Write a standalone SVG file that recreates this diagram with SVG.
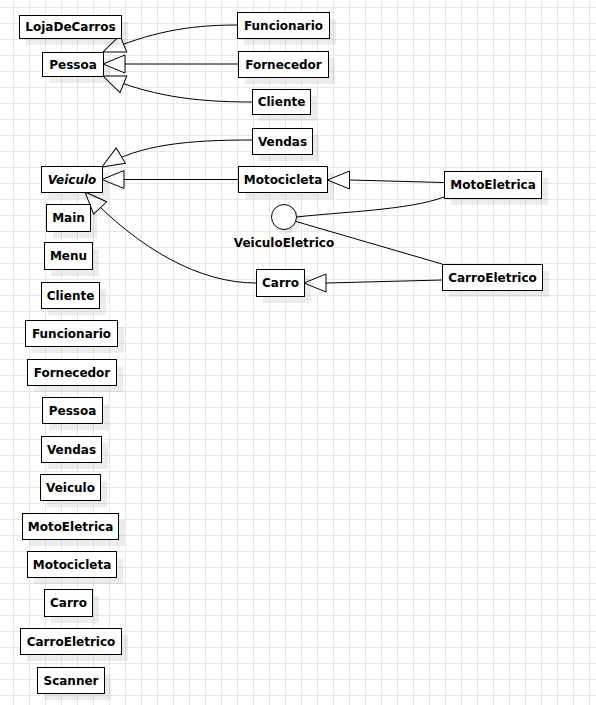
<svg xmlns="http://www.w3.org/2000/svg" width="596" height="705" viewBox="0 0 596 705">
<style>
.box{fill:#fff;stroke:#000;stroke-width:1}
.sh{fill:#000;opacity:0.07}
.t{font-family:"DejaVu Sans","Liberation Sans",sans-serif;font-size:12px;font-weight:bold;text-anchor:middle;fill:#000}
.it{font-style:italic}
.e{fill:none;stroke:#000;stroke-width:1}
.g{marker-end:url(#tri)}
</style>
<defs>
<pattern id="grid" patternUnits="userSpaceOnUse" x="13" y="7" width="16" height="16">
<path d="M0.5,0 V16 M0,0.5 H16" stroke="#e8e8e8" stroke-width="1" fill="none"/>
</pattern>
<marker id="tri" markerUnits="userSpaceOnUse" viewBox="-1 -1 25 20" refX="22" refY="9" markerWidth="25" markerHeight="20" orient="auto">
<path d="M0,0 L22,9 L0,18 Z" fill="#fff" stroke="#000" stroke-width="1"/>
</marker>
</defs>
<rect width="596" height="705" fill="#fff"/>
<rect width="596" height="705" fill="url(#grid)"/>

<g id="connectors">
<path class="e g" d="M237,25 C185,25 150,33 103,52"/>
<path class="e g" d="M238,64 L103,64"/>
<path class="e g" d="M252,102 C190,102 150,95 103,76"/>
<path class="e g" d="M252,140 C190,140 140,144 102,167"/>
<path class="e g" d="M238,179.5 L102,179.5"/>
<path class="e g" d="M256,283 C200,283 140,250 85,192"/>
<path class="e g" d="M444,182.5 L350,180 L327.5,180"/>
<path class="e g" d="M442,280 L327,283 L304,283"/>
<path class="e" d="M444,197 C410,210 340,212 296.5,217"/>
<path class="e" d="M296,221.5 L442,264"/>
</g>

<g id="n-lojadecarros"><rect class="sh" x="26" y="22" width="102" height="23"/><rect class="box" x="19.5" y="15.5" width="102" height="23"/><text class="t" x="70.5" y="31.4">LojaDeCarros</text></g>
<g id="n-pessoa"><rect class="sh" x="49" y="59" width="61" height="24"/><rect class="box" x="42.5" y="52.5" width="61" height="24"/><text class="t" x="73" y="68.9">Pessoa</text></g>
<g id="n-funcionario"><rect class="sh" x="244" y="19" width="92" height="26"/><rect class="box" x="237.5" y="12.5" width="92" height="26"/><text class="t" x="283.5" y="29.9">Funcionario</text></g>
<g id="n-fornecedor"><rect class="sh" x="245" y="58" width="90" height="26"/><rect class="box" x="238.5" y="51.5" width="90" height="26"/><text class="t" x="283.5" y="68.9">Fornecedor</text></g>
<g id="n-cliente"><rect class="sh" x="259" y="96" width="58" height="25"/><rect class="box" x="252.5" y="89.5" width="58" height="25"/><text class="t" x="281.5" y="106.4">Cliente</text></g>
<g id="n-vendas"><rect class="sh" x="259" y="135" width="60" height="26"/><rect class="box" x="252.5" y="128.5" width="60" height="26"/><text class="t" x="282.5" y="145.9">Vendas</text></g>
<g id="n-veiculo"><rect class="sh" x="48" y="173" width="61" height="26"/><rect class="box" x="41.5" y="166.5" width="61" height="26"/><text class="t it" x="72" y="183.9">Veiculo</text></g>
<g id="n-motocicleta"><rect class="sh" x="245" y="173" width="89" height="26"/><rect class="box" x="238.5" y="166.5" width="89" height="26"/><text class="t" x="283" y="183.9">Motocicleta</text></g>
<g id="n-motoeletrica"><rect class="sh" x="451" y="178" width="97" height="27"/><rect class="box" x="444.5" y="171.5" width="97" height="27"/><text class="t" x="493" y="189.4">MotoEletrica</text></g>
<g id="n-veiculoeletrico"><circle cx="288" cy="221" r="12.5" fill="#000" opacity="0.07"/><circle cx="284" cy="217" r="12.5" fill="#fff" stroke="#000" stroke-width="1"/><text class="t" x="284" y="247">VeiculoEletrico</text></g>
<g id="n-carro"><rect class="sh" x="263" y="276" width="48" height="27"/><rect class="box" x="256.5" y="269.5" width="48" height="27"/><text class="t" x="280.5" y="287.4">Carro</text></g>
<g id="n-carroeletrico"><rect class="sh" x="449" y="271" width="100" height="26"/><rect class="box" x="442.5" y="264.5" width="100" height="26"/><text class="t" x="492.5" y="281.9">CarroEletrico</text></g>

<g id="n-main"><rect class="sh" x="53" y="211" width="44" height="27"/><rect class="box" x="46.5" y="204.5" width="44" height="27"/><text class="t" x="68.5" y="222.4">Main</text></g>
<g id="n-menu"><rect class="sh" x="51" y="249" width="48" height="27"/><rect class="box" x="44.5" y="242.5" width="48" height="27"/><text class="t" x="68.5" y="260.4">Menu</text></g>
<g id="n-cliente2"><rect class="sh" x="48" y="289" width="58" height="26"/><rect class="box" x="41.5" y="282.5" width="58" height="26"/><text class="t" x="70.5" y="299.9">Cliente</text></g>
<g id="n-funcionario2"><rect class="sh" x="32" y="327" width="92" height="26"/><rect class="box" x="25.5" y="320.5" width="92" height="26"/><text class="t" x="71.5" y="337.9">Funcionario</text></g>
<g id="n-fornecedor2"><rect class="sh" x="34" y="366" width="89" height="26"/><rect class="box" x="27.5" y="359.5" width="89" height="26"/><text class="t" x="72" y="376.9">Fornecedor</text></g>
<g id="n-pessoa2"><rect class="sh" x="49" y="404" width="60" height="26"/><rect class="box" x="42.5" y="397.5" width="60" height="26"/><text class="t" x="72.5" y="414.9">Pessoa</text></g>
<g id="n-vendas2"><rect class="sh" x="48" y="443" width="60" height="26"/><rect class="box" x="41.5" y="436.5" width="60" height="26"/><text class="t" x="71.5" y="453.9">Vendas</text></g>
<g id="n-veiculo2"><rect class="sh" x="47" y="481" width="60" height="26"/><rect class="box" x="40.5" y="474.5" width="60" height="26"/><text class="t" x="70.5" y="491.9">Veiculo</text></g>
<g id="n-motoeletrica2"><rect class="sh" x="29" y="520" width="96" height="26"/><rect class="box" x="22.5" y="513.5" width="96" height="26"/><text class="t" x="70.5" y="530.9">MotoEletrica</text></g>
<g id="n-motocicleta2"><rect class="sh" x="34" y="558" width="89" height="26"/><rect class="box" x="27.5" y="551.5" width="89" height="26"/><text class="t" x="72" y="568.9">Motocicleta</text></g>
<g id="n-carro2"><rect class="sh" x="51" y="596" width="48" height="27"/><rect class="box" x="44.5" y="589.5" width="48" height="27"/><text class="t" x="68.5" y="607.4">Carro</text></g>
<g id="n-carroeletrico2"><rect class="sh" x="27" y="635" width="101" height="26"/><rect class="box" x="20.5" y="628.5" width="101" height="26"/><text class="t" x="71" y="645.9">CarroEletrico</text></g>
<g id="n-scanner"><rect class="sh" x="44" y="674" width="67" height="26"/><rect class="box" x="37.5" y="667.5" width="67" height="26"/><text class="t" x="71" y="684.9">Scanner</text></g>
</svg>
